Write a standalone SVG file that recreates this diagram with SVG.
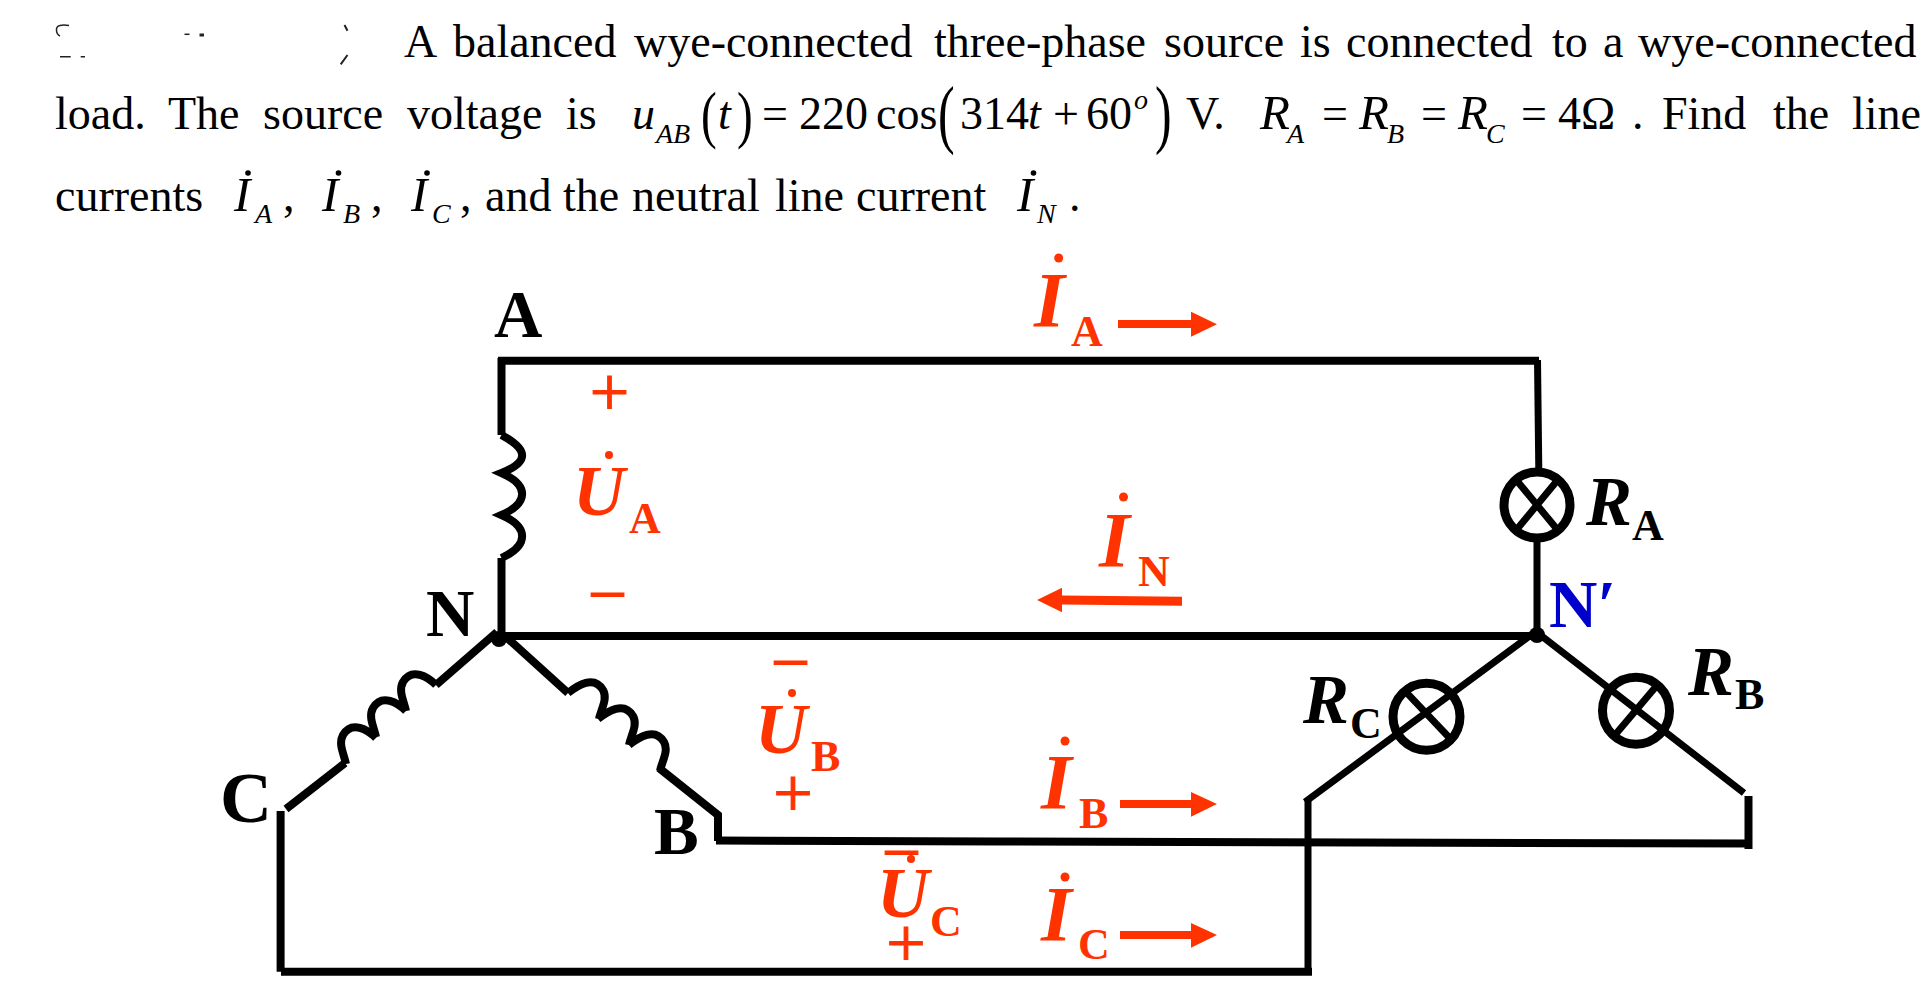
<svg xmlns="http://www.w3.org/2000/svg" width="1922" height="981" viewBox="0 0 1922 981">
<style>
text{font-family:"Liberation Serif","Times New Roman",serif;fill:#000}
.b{font-size:46px}.i{font-size:46px;font-style:italic}.m{font-size:49px;font-style:italic}.s{font-size:28px;font-style:italic}
.bl{font-size:67px;font-weight:bold}
.ri{font-size:69px;font-weight:bold;font-style:italic}
.rs{font-size:44px;font-weight:bold}
.o{fill:#ff3300}
.ou{font-size:72px;font-weight:bold;font-style:italic;fill:#ff3300}
.oi{font-size:79px;font-weight:bold;font-style:italic;fill:#ff3300}
.os{font-size:44px;font-weight:bold;fill:#ff3300}
.sign{font-size:70px;fill:#ff3300;stroke:#ff3300;stroke-width:1.2;text-anchor:middle}
.w{fill:none;stroke:#000;stroke-width:8;stroke-linejoin:miter}
.lamp{fill:none;stroke:#000;stroke-width:9}
.x{fill:none;stroke:#000;stroke-width:7}
</style>
<defs>
<path id="bump" d="M0,0C-8,-8 -24,-18 -33,-3C-38,6 -32,16 -30,26"/>
<path id="bumpR" d="M0,0C10,-8 26,-18 35,-3C40,6 33,16 31,26"/>
</defs>
<g id="specks" fill="none" stroke="#222" stroke-width="1.500">
<path d="M69,25.500C62,24.500 56,25 56.500,30C56.500,33 58,35 60,36"/><path d="M60,56.700H70.700M80.700,56.700H85"/><path d="M184.500,34.300H189.500"/><path stroke-width="3" d="M199.500,35H204"/><path stroke-width="2" d="M344.500,25L347.500,30.700M347.500,55L340.700,64.300"/>
</g>
<g id="problem-text">
<text class="b" y="57"><tspan x="404">A</tspan><tspan x="453">balanced</tspan><tspan x="634">wye-connected</tspan><tspan x="934">three-phase</tspan><tspan x="1164">source</tspan><tspan x="1300">is</tspan><tspan x="1346">connected</tspan><tspan x="1552">to</tspan><tspan x="1603">a</tspan><tspan x="1638">wye-connected</tspan></text>
<text class="b" y="129"><tspan x="55">load.</tspan><tspan x="168">The</tspan><tspan x="263">source</tspan><tspan x="407">voltage</tspan><tspan x="566">is</tspan></text>
<text class="i" x="632" y="129">u</text><text class="s" x="656" y="143">AB</text>
<text x="0" y="0" font-size="63" transform="translate(701 136) scale(0.75 1)">(</text><text class="i" x="718" y="129">t</text><text x="0" y="0" font-size="63" transform="translate(737 136) scale(0.75 1)">)</text>
<text class="b" x="762" y="129">=</text><text class="b" x="799" y="129">220</text><text class="b" x="876" y="129">cos</text>
<text x="0" y="0" font-size="77" transform="translate(938 139) scale(0.65 1)">(</text>
<text class="b" x="960" y="129">314</text><text class="i" x="1028" y="129">t</text><text class="b" x="1053" y="129">+</text><text class="b" x="1086" y="129">60</text><text class="s" x="1134" y="109">o</text>
<text x="0" y="0" font-size="77" transform="translate(1155 139) scale(0.65 1)">)</text>
<text class="b" x="1186" y="129">V.</text>
<text class="m" x="1260" y="129">R</text><text class="s" x="1287" y="143">A</text><text class="b" x="1322" y="129">=</text>
<text class="m" x="1359" y="129">R</text><text class="s" x="1387" y="143">B</text><text class="b" x="1421" y="129">=</text>
<text class="m" x="1458" y="129">R</text><text class="s" x="1486" y="143">C</text><text class="b" x="1521" y="129">=</text>
<text class="b" x="1558" y="129">4Ω</text><text class="b" x="1632" y="129">.</text>
<text class="b" y="129"><tspan x="1662">Find</tspan><tspan x="1773">the</tspan><tspan x="1852">line</tspan></text>
<text class="b" x="55" y="211">currents</text>
<text class="m" x="234" y="211">I</text><circle cx="248" cy="173" r="2.800"/><text class="s" x="255" y="223">A</text><text class="b" x="283" y="211">,</text>
<text class="m" x="322" y="211">I</text><circle cx="338.500" cy="173" r="2.800"/><text class="s" x="343" y="223">B</text><text class="b" x="371" y="211">,</text>
<text class="m" x="411" y="211">I</text><circle cx="427" cy="173" r="2.800"/><text class="s" x="432" y="223">C</text>
<text class="b" y="211"><tspan x="460">,</tspan><tspan x="485">and</tspan><tspan x="563">the</tspan><tspan x="632">neutral</tspan><tspan x="775">line</tspan><tspan x="856">current</tspan></text>
<text class="m" x="1017" y="211">I</text><circle cx="1033.500" cy="173" r="2.800"/><text class="s" x="1037" y="223">N</text><text class="b" x="1069" y="211">.</text>
</g>
<g id="connectors" class="w">
<path class="w" d="M498,360.700H1539"/>
<path class="w" d="M501.500,358V435"/>
<path class="w" d="M501.500,558V636"/>
<path class="w" d="M498,636H1537"/>
<path class="w" style="stroke-width:7" d="M1537.500,360L1538.800,470"/>
<path class="w" style="stroke-width:7" d="M1537,540V636"/>
<path class="w" d="M497,632L436,685"/>
<path class="w" d="M345,763L286,809"/>
<path class="w" d="M505,636L568,693"/>
<path class="w" d="M659,768L718,815L718,841"/>
<path class="w" d="M716,840.500L1000,841.500L1752,843.500"/>
<path class="w" d="M1748.500,796V849"/>
<path class="w" d="M280.600,811V971.700"/>
<path class="w" d="M281,971.700H1312"/>
<path class="w" style="stroke-width:7" d="M1308,800V972"/>
<path class="w" style="stroke-width:7" d="M1305,802L1535,632"/>
<path class="w" style="stroke-width:7" d="M1539,634L1744,793"/>
</g>
<g id="node-N"><circle cx="499" cy="639" r="8"/><text class="bl" x="426" y="636">N</text></g>
<g id="node-Nprime"><circle cx="1537" cy="635" r="8"/><text class="bl" x="1549" y="627" style="fill:#0000cc">N′</text></g>
<g id="node-A"><text class="bl" x="494" y="337">A</text></g>
<g id="node-B"><text class="bl" x="654" y="854">B</text></g>
<g id="node-C"><text class="bl" x="220" y="822" style="font-size:72px">C</text></g>
<g id="coil-A"><path class="w" d="M501.500,435C529,450 529,462 501.500,473C529,485 529,503 501.500,515C529,527 529,545 501.500,558"/></g>
<g id="coil-C" class="w"><use href="#bump" x="436" y="685"/><use href="#bump" x="406" y="711"/><use href="#bump" x="376" y="738"/></g>
<g id="coil-B" class="w"><use href="#bumpR" x="568" y="693"/><use href="#bumpR" x="598" y="719"/><use href="#bumpR" x="629" y="745"/></g>
<g id="lamp-RA"><ellipse class="lamp" cx="1537" cy="505" rx="33" ry="33"/><path class="x" d="M1518,482L1556,528M1556,482L1518,528"/><text class="ri" x="1586" y="525">R</text><text class="rs" x="1632" y="540">A</text></g>
<g id="lamp-RC"><circle class="lamp" cx="1426.500" cy="716.700" r="33.500"/><path class="x" d="M1405.600,691.700L1451.500,740"/><text class="ri" x="1303" y="722.700">R</text><text class="rs" x="1350" y="738">C</text></g>
<g id="lamp-RB"><circle class="lamp" cx="1636" cy="710.700" r="33.500"/><path class="x" d="M1615,735L1655.600,687"/><text class="ri" x="1688" y="695">R</text><text class="rs" x="1735" y="709">B</text></g>
<g id="label-UA"><text class="sign" x="609.500" y="416">+</text><circle class="o" cx="609" cy="455" r="4"/><text class="ou" x="573" y="515">U</text><text class="os" x="629" y="533">A</text><text class="sign" x="607.500" y="617.500">−</text></g>
<g id="label-UB"><text class="sign" x="790.500" y="685.500">−</text><circle class="o" cx="792" cy="693" r="4"/><text class="ou" x="755" y="753">U</text><text class="os" x="811" y="770.600">B</text><text class="sign" x="793" y="817">+</text></g>
<g id="label-UC"><text class="sign" x="901.500" y="875.500">−</text><circle class="o" cx="911" cy="859" r="4"/><text class="ou" x="877" y="917">U</text><text class="os" x="930" y="936">C</text><text class="sign" x="906" y="967">+</text></g>
<g id="label-IA"><circle class="o" cx="1058.700" cy="258" r="4.500"/><text class="oi" x="1034" y="325.500">I</text><text class="os" x="1071" y="346">A</text><path class="o" d="M1118,320H1191V311.700L1217,324.300L1191,336.700V328H1118Z"/></g>
<g id="label-IN"><circle class="o" cx="1123.500" cy="497" r="4.500"/><text class="oi" x="1099" y="566">I</text><text class="os" x="1138" y="586">N</text><path class="o" d="M1182,596.700L1062,595.500V587.700L1037,600L1062,612.300V604.500L1182,605.700Z"/></g>
<g id="label-IB"><circle class="o" cx="1065" cy="741" r="4.500"/><text class="oi" x="1041" y="808">I</text><text class="os" x="1079" y="828">B</text><path class="o" d="M1120,800H1191V792L1217,804L1191,816.700V808H1120Z"/></g>
<g id="label-IC"><circle class="o" cx="1065" cy="877" r="4.500"/><text class="oi" x="1041" y="940">I</text><text class="os" x="1078" y="959">C</text><path class="o" d="M1120,931H1191V923L1217,935L1191,947.700V939H1120Z"/></g>
</svg>
